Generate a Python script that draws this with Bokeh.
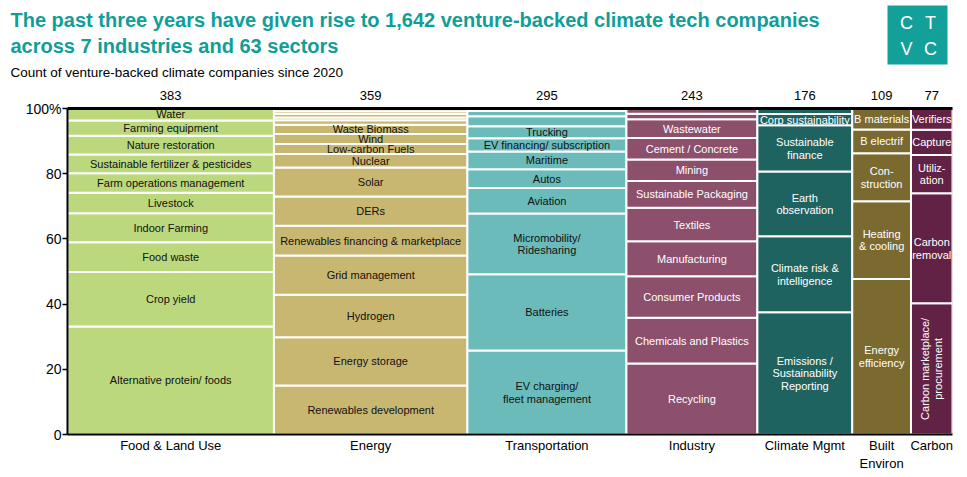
import numpy as np
from bokeh.plotting import figure
from bokeh.layouts import column
from bokeh.models import Range1d, FixedTicker, LinearAxis, ColumnDataSource
from bokeh.embed import file_html
from bokeh.resources import INLINE
from bokeh.core.properties import value

# ---------------- data ----------------
industries = ["Food & Land Use", "Energy", "Transportation", "Industry",
              "Climate Mgmt", "Built\nEnviron", "Carbon"]
totals = [383, 359, 295, 243, 176, 109, 77]

# sectors listed bottom -> top; "" = unlabeled thin sector
food_sectors = ["Alternative protein/ foods", "Crop yield", "Food waste", "Indoor Farming",
                "Livestock", "Farm operations management", "Sustainable fertilizer & pesticides",
                "Nature restoration", "Farming equipment", "Water"]
food_counts = [127, 64, 35, 34, 24, 23, 22, 22, 18, 14]

energy_sectors = ["Renewables development", "Energy storage", "Hydrogen", "Grid management",
                  "Renewables financing & marketplace", "DERs", "Solar", "Nuclear",
                  "Low-carbon Fuels", "Wind", "Waste Biomass", "", "", "", "", ""]
energy_counts = [54, 53, 47, 43, 33, 32, 32, 15, 11, 11, 10, 5, 3, 4, 3, 3]

transport_sectors = ["EV charging/\nfleet management", "Batteries", "Micromobility/\nRidesharing",
                     "Aviation", "Autos", "Maritime", "EV financing/ subscription", "Trucking",
                     "", "", ""]
transport_counts = [76, 69, 55, 23, 17, 16, 12, 11, 9, 5, 2]

industry_sectors = ["Recycling", "Chemicals and Plastics", "Consumer Products", "Manufacturing",
                    "Textiles", "Sustainable Packaging", "Mining", "Cement / Concrete",
                    "Wastewater", "", ""]
industry_counts = [53, 34, 31, 26, 25, 20, 16, 16, 14, 4, 4]

climate_sectors = ["Emissions /\nSustainability\nReporting", "Climate risk &\nintelligence",
                   "Earth\nobservation", "Sustainable\nfinance", "Corp sustainability", ""]
climate_counts = [66, 41, 35, 25, 6, 3]

built_sectors = ["Energy\nefficiency", "Heating\n& cooling", "Con-\nstruction",
                 "B electrif", "B materials"]
built_counts = [52, 26, 16, 8, 7]

carbon_sectors = ["Carbon marketplace/\nprocurement", "Carbon\nremoval", "Utiliz-\nation",
                  "Capture", "Verifiers"]
carbon_counts = [31, 26, 9, 6, 5]

all_sectors = [food_sectors, energy_sectors, transport_sectors, industry_sectors,
               climate_sectors, built_sectors, carbon_sectors]
all_counts = [food_counts, energy_counts, transport_counts, industry_counts,
              climate_counts, built_counts, carbon_counts]

title_lines = ["The past three years have given rise to 1,642 venture-backed climate tech companies",
               "across 7 industries and 63 sectors"]
subtitle = "Count of venture-backed climate companies since 2020"
logo_letters = ["C", "T", "V", "C"]

# ---------------- styles ----------------
fills = ["#bcd87d", "#c8b771", "#6bbbbb", "#8c4f6c", "#1f6361", "#7b6a30", "#612246"]
text_cols = ["#111111", "#111111", "#111111", "#ffffff", "#ffffff", "#ffffff", "#ffffff"]
FONT = "Liberation Sans"
TEAL = "#0f9e99"
LOGO = "#13a09b"

W, H = 967, 477
HH = 85                                     # header height
FL, FR, FT, FB = 67, 15, 108 - HH, 43       # main frame borders (px)

# ---------------- header (title, subtitle, logo) ----------------
hdr = figure(width=W, height=HH, output_backend="svg", toolbar_location=None,
             x_range=Range1d(0, W), y_range=Range1d(HH, 0), min_border=0,
             x_axis_location=None, y_axis_location=None)
hdr.frame_align = False
hdr.outline_line_color = None
hdr.xgrid.visible = False
hdr.ygrid.visible = False
hdr.text(x=[10, 10], y=[19, 45], text=title_lines, text_font=value(FONT),
         text_font_style="bold", text_font_size="20px", text_color=TEAL,
         text_baseline="middle", text_align="left")
hdr.text(x=[10], y=[72], text=[subtitle], text_font=value(FONT), text_font_size="13.5px",
         text_color="black", text_baseline="middle", text_align="left")
hdr.quad(left=[887], right=[947], top=[5], bottom=[64], fill_color=LOGO, line_color=None)
hdr.text(x=[906, 930, 906, 930], y=[22, 22, 48, 48], text=logo_letters, text_font=value(FONT),
         text_font_size="18px", text_color="white", text_align="center", text_baseline="middle")

# ---------------- main marimekko ----------------
grand = sum(totals)
p = figure(width=W, height=H - HH, output_backend="svg", toolbar_location=None,
           x_range=Range1d(0, grand), y_range=Range1d(0, 100),
           min_border_left=FL, min_border_right=FR, min_border_top=FT, min_border_bottom=FB,
           x_axis_location=None, y_axis_location=None)
p.frame_align = False
p.outline_line_color = None
p.xgrid.visible = False
p.ygrid.visible = False

lefts = np.concatenate([[0], np.cumsum(totals)[:-1]])
centers = [float(l + t / 2) for l, t in zip(lefts, totals)]

q = dict(left=[], right=[], bottom=[], top=[], fill=[])
lab = dict(x=[], y=[], text=[], color=[])
rot = dict(x=[], y=[], text=[], color=[])
for i, (secs, cnts) in enumerate(zip(all_sectors, all_counts)):
    tot = totals[i]
    cum = np.concatenate([[0], np.cumsum(cnts)]) / tot * 100
    for j, s in enumerate(secs):
        q["left"].append(lefts[i]); q["right"].append(lefts[i] + tot)
        q["bottom"].append(cum[j]); q["top"].append(cum[j + 1]); q["fill"].append(fills[i])
        if s:
            d = rot if s.startswith("Carbon marketplace") else lab
            d["x"].append(centers[i]); d["y"].append((cum[j] + cum[j + 1]) / 2)
            d["text"].append(s); d["color"].append(text_cols[i])

p.quad(left="left", right="right", bottom="bottom", top="top", fill_color="fill",
       line_color="white", line_width=2, source=ColumnDataSource(q))
p.text(x="x", y="y", text="text", text_color="color", source=ColumnDataSource(lab),
       text_align="center", text_baseline="middle", text_font=value(FONT),
       text_font_size="11px", text_line_height=1.05)
p.text(x="x", y="y", text="text", text_color="color", source=ColumnDataSource(rot),
       text_align="center", text_baseline="middle", text_font=value(FONT),
       text_font_size="11px", text_line_height=1.05, angle=np.pi / 2)

yax = LinearAxis(ticker=FixedTicker(ticks=[0, 20, 40, 60, 80, 100]),
                 major_label_overrides={100: "100%"})
yax.axis_line_width = 2
yax.axis_line_color = "black"
yax.major_tick_out = 5
yax.major_tick_in = 0
yax.major_tick_line_width = 1.5
yax.minor_tick_line_color = None
yax.major_label_text_font = FONT
yax.major_label_text_font_size = "14px"
yax.major_label_text_color = "black"
yax.major_label_standoff = 1
p.add_layout(yax, "left")

xax = LinearAxis(ticker=FixedTicker(ticks=centers),
                 major_label_overrides={c: n for c, n in zip(centers, industries)})
xax.axis_line_width = 2
xax.axis_line_color = "black"
xax.major_tick_line_color = None
xax.minor_tick_line_color = None
xax.major_label_text_font = FONT
xax.major_label_text_font_size = "13px"
xax.major_label_text_color = "black"
xax.major_label_standoff = -3
p.add_layout(xax, "below")

tax = LinearAxis(ticker=FixedTicker(ticks=centers),
                 major_label_overrides={c: str(t) for c, t in zip(centers, totals)})
tax.axis_line_width = 3
tax.axis_line_color = "black"
tax.major_tick_line_color = None
tax.minor_tick_line_color = None
tax.major_label_text_font = FONT
tax.major_label_text_font_size = "13px"
tax.major_label_text_color = "black"
tax.major_label_standoff = 3
p.add_layout(tax, "above")

layout = column(hdr, p, spacing=0)
open("out.html", "w").write(file_html(layout, INLINE))
